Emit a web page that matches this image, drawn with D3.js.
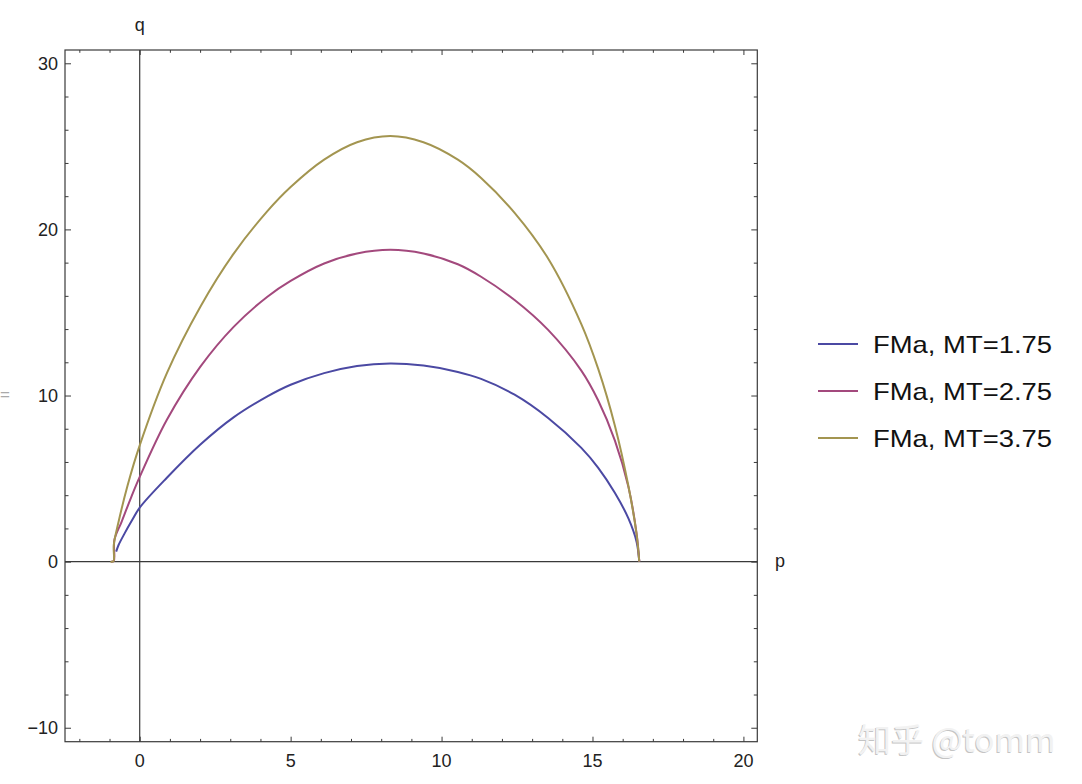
<!DOCTYPE html>
<html><head><meta charset="utf-8">
<script src="https://cdn.jsdelivr.net/npm/d3@7"></script>
<style>body{margin:0;background:#fff;}svg{display:block;font-family:"Liberation Sans",Arial,sans-serif;}</style>
</head><body>
<svg id="c" width="1082" height="784"></svg>
<script>
const seriesLabels = ["FMa, MT=1.75", "FMa, MT=2.75", "FMa, MT=3.75"];
const seriesColors = ["#4b49a3", "#a3497d", "#a39550"];
// [p, q] points
const curveMT175 = [[-0.78,0.6],[-0.7,1.0],[-0.5,1.7],[-0.25,2.5],[0,3.25],[0.9,5.05],[2.01,7.05],[3.12,8.7],[4.23,9.95],[5.0,10.65],[6.11,11.35],[7.2,11.78],[8.3,11.93],[9.4,11.8],[10.54,11.42],[11.31,11.0],[12.42,10.05],[13.53,8.65],[14.63,6.85],[15.19,5.65],[15.74,4.15],[16.19,2.6],[16.46,1.2],[16.55,0]];
const curveMT275 = [[-0.95,0],[-0.86,0.05],[-0.84,1.3],[-0.6,2.4],[-0.3,3.8],[0,5.1],[0.9,8.54],[2.01,11.74],[3.12,14.15],[4.23,15.95],[5.0,16.9],[6.11,17.95],[7.2,18.55],[8.3,18.77],[9.4,18.55],[10.54,17.9],[11.31,17.15],[12.42,15.75],[13.53,13.95],[14.63,11.5],[15.19,9.7],[15.74,7.3],[16.19,4.5],[16.46,1.7],[16.55,0]];
const curveMT375 = [[-0.97,0],[-0.87,0.02],[-0.86,1.0],[-0.7,2.4],[-0.4,4.6],[0,7.0],[0.9,11.35],[2.01,15.35],[3.12,18.56],[4.23,21.1],[5.0,22.55],[6.11,24.2],[7.2,25.25],[8.3,25.62],[9.4,25.25],[10.54,24.2],[11.31,23.1],[12.42,21.0],[13.53,18.25],[14.63,14.3],[15.19,11.6],[15.74,8.2],[16.19,4.55],[16.46,1.65],[16.55,0]];
const xMajorTicks = [0, 5, 10, 15, 20];
const xMinorTicks = [-2,-1,1,2,3,4,6,7,8,9,11,12,13,14,16,17,18,19];
const yMajorTicks = [-10, 0, 10, 20, 30];
const yMinorTicks = [-8,-6,-4,-2,2,4,6,8,12,14,16,18,22,24,26,28];

const curves = [curveMT175, curveMT275, curveMT375];
const svg = d3.select("#c");
const L = 65, R = 757.3, T = 50, B = 741.7;
const x = d3.scaleLinear().domain([-2.475, 20.46]).range([L, R]);
const y = d3.scaleLinear().domain([-10.84, 30.8]).range([B, T]);
const axisColor = "#3a3a3a";

// frame
svg.append("rect").attr("x", L).attr("y", T).attr("width", R - L).attr("height", B - T)
  .attr("fill", "none").attr("stroke", axisColor).attr("stroke-width", 1.2);

// ticks (inward) via d3 axes
function tickAxis(gen, tr, vals, size) {
  const g = svg.append("g").attr("transform", tr)
    .call(gen.tickValues(vals).tickSize(size).tickFormat(""));
  g.select(".domain").remove();
  g.selectAll("line").attr("stroke", axisColor).attr("stroke-width", 1);
  return g;
}
tickAxis(d3.axisTop(x), `translate(0,${B})`, xMajorTicks, 5);
tickAxis(d3.axisTop(x), `translate(0,${B})`, xMinorTicks, 2.8);
tickAxis(d3.axisBottom(x), `translate(0,${T})`, xMajorTicks, 5);
tickAxis(d3.axisBottom(x), `translate(0,${T})`, xMinorTicks, 2.8);
tickAxis(d3.axisRight(y), `translate(${L},0)`, yMajorTicks, 6);
tickAxis(d3.axisRight(y), `translate(${L},0)`, yMinorTicks, 3.5);
tickAxis(d3.axisLeft(y), `translate(${R},0)`, yMajorTicks, 6);
tickAxis(d3.axisLeft(y), `translate(${R},0)`, yMinorTicks, 3.5);

// tick labels
svg.append("g").selectAll("text").data(xMajorTicks).join("text")
  .attr("x", d => x(d)).attr("y", 767).attr("text-anchor", "middle")
  .attr("font-size", 18).attr("fill", "#222").text(d => d);
svg.append("g").selectAll("text").data(yMajorTicks).join("text")
  .attr("x", 58).attr("y", d => y(d) + 6.5).attr("text-anchor", "end")
  .attr("font-size", 18).attr("fill", "#222").text(d => d < 0 ? "\u2212" + Math.abs(d) : d);

// origin axes lines
svg.append("line").attr("x1", x(0)).attr("x2", x(0)).attr("y1", T).attr("y2", B)
  .attr("stroke", axisColor).attr("stroke-width", 1.2);
svg.append("line").attr("x1", L).attr("x2", R).attr("y1", y(0)).attr("y2", y(0))
  .attr("stroke", axisColor).attr("stroke-width", 1.2);

// axis labels
svg.append("text").attr("x", x(0)).attr("y", 31).attr("text-anchor", "middle")
  .attr("font-size", 18).attr("fill", "#222").text("q");
svg.append("text").attr("x", 780).attr("y", y(0) + 5).attr("text-anchor", "middle")
  .attr("font-size", 18).attr("fill", "#222").text("p");

// curves
const line = d3.line().x(d => x(d[0])).y(d => y(d[1])).curve(d3.curveCatmullRom.alpha(0.5));
svg.append("g").selectAll("path").data(curves).join("path")
  .attr("d", line).attr("fill", "none")
  .attr("stroke", (d, i) => seriesColors[i]).attr("stroke-width", 2);

// legend
const lg = svg.append("g").selectAll("g").data(seriesLabels).join("g")
  .attr("transform", (d, i) => `translate(818,${344 + i * 47})`);
lg.append("line").attr("x1", 0).attr("x2", 40).attr("y1", 0).attr("y2", 0)
  .attr("stroke", (d, i) => seriesColors[i]).attr("stroke-width", 2);
lg.append("text").attr("x", 55).attr("y", 9).attr("font-size", 24)
  .attr("textLength", 179).attr("lengthAdjust", "spacingAndGlyphs")
  .attr("fill", "#111").text(d => d);

// stray mark at left
svg.append("text").attr("x", 5).attr("y", 400).attr("text-anchor", "middle")
  .attr("font-size", 17).attr("fill", "#aaa").text("=");

// watermark
const wm = "知乎 @tomm";
svg.append("text").attr("x", 857).attr("y", 753).attr("font-family", "Noto Sans CJK SC")
  .attr("font-size", 33).attr("fill", "#c4c4c4").text(wm);
svg.append("text").attr("x", 858).attr("y", 752).attr("font-family", "Noto Sans CJK SC")
  .attr("font-size", 33).attr("fill", "#f2f2f2").text(wm);
</script>
</body></html>
